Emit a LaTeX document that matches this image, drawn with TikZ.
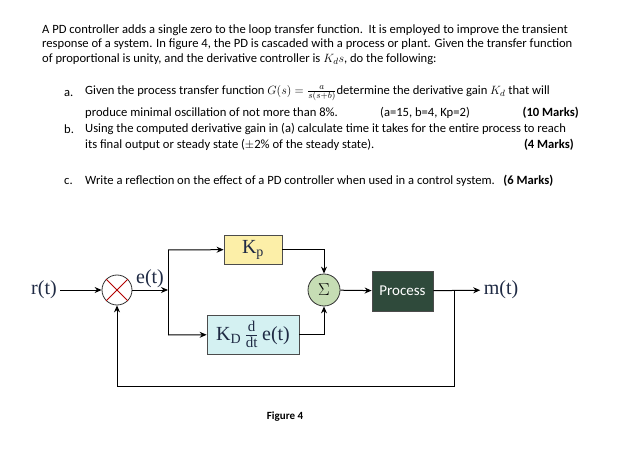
\documentclass[tikz,border=0pt]{standalone}
\usepackage{fontspec}
\setmainfont{Carlito}
\newfontfamily\serifdiag{Liberation Serif}
\usetikzlibrary{arrows.meta}
\definecolor{navy}{HTML}{1F2A44}
\definecolor{procg}{HTML}{2F4A3B}
\definecolor{sigg}{HTML}{C6DDB4}
\definecolor{kpy}{HTML}{FCEFA8}
\definecolor{kdc}{HTML}{D4F1F2}
\begin{document}
\begin{tikzpicture}[x=1pt,y=-1pt,
  txt/.style={anchor=west,inner sep=0pt,font=\fontsize{12.6}{14}\selectfont},
  blk/.style={draw=black!70,line width=0.8pt,inner sep=0pt},
  sig/.style={font=\serifdiag\fontsize{20}{22}\selectfont,text=navy},
  con/.style={line width=1pt,-{Stealth[length=7pt,width=6pt]}},
  ln/.style={line width=1pt}]
\useasboundingbox (0,0) rectangle (621,465);
\node[txt] (h1) at (42,30) {A PD controller adds a single zero to the loop transfer function.\ \ It is employed to improve the transient};
\node[txt] (h2) at (42,44) {response of a system. In figure 4, the PD is cascaded with a process or plant. Given the transfer function};
\node[txt] (h3) at (42,59) {of proportional is unity, and the derivative controller is $K_d s$, do the following:};
\node[txt] (la) at (64,93) {a.};
\node[txt] (ta) at (85,93) {Given the process transfer function $G(s) = \frac{a}{s(s+b)}$determine the derivative gain $K_d$ that will};
\node[txt] (ta2) at (85,113) {produce minimal oscillation of not more than 8\%.};
\node[txt] (ta3) at (380,113) {(a=15, b=4, Kp=2)};
\node[txt,anchor=east] (ma) at (579,113) {\textbf{(10 Marks)}};
\node[txt] (lb) at (64,129) {b.};
\node[txt] (tb) at (85,129) {Using the computed derivative gain in (a) calculate time it takes for the entire process to reach};
\node[txt] (tb2) at (85,145) {its final output or steady state ($\pm$2\% of the steady state).};
\node[txt,anchor=east] (mb) at (574,145) {\textbf{(4 Marks)}};
\node[txt] (lc) at (64,181) {c.};
\node[txt] (tc) at (85,181) {Write a reflection on the effect of a PD controller when used in a control system.\ \ \ \textbf{(6 Marks)}};

% diagram
\node[sig] (r) at (44,290) {r(t)};
\node[circle,draw=black!80,line width=0.8pt,minimum size=30pt,inner sep=0pt] (x) at (117,290) {};
\draw[red!70!black,line width=1pt] (x.45)--(x.225) (x.135)--(x.315);
\node[sig] (e) at (150,279) {e(t)};
\coordinate (br) at (168,290);
\node[blk,fill=kpy,minimum width=58pt,minimum height=29pt,sig] (kp) at (253,249.5) {K\textsubscript{p}};
\node[blk,fill=kdc,minimum width=92pt,minimum height=39pt,sig] (kd) at (253,334.5) {K\textsubscript{D}$\,\frac{\hbox{\serifdiag\fontsize{15}{16}\selectfont d}}{\hbox{\serifdiag\fontsize{15}{16}\selectfont dt}}\,$e(t)};
\node[circle,draw=black!80,line width=0.8pt,fill=sigg,minimum size=32pt,inner sep=0pt,font=\fontsize{18}{20}\selectfont] (s) at (324,290) {$\Sigma$};
\node[blk,fill=procg,minimum width=61pt,minimum height=40pt,text=white,font=\fontsize{15}{17}\selectfont] (p) at (402.5,291) {Process};
\node[sig] (m) at (501,290) {m(t)};
\coordinate (tk) at (454,290);
\coordinate (fb) at (454,386);
\coordinate (fb2) at (117,386);
\draw[con] (r) -- (x);
\draw[con] (x) -- (br);
\draw[ln] (br) |- (168,250) coordinate (t1);
\draw[con] (t1) -- (kp);
\draw[ln] (br) |- (168,335) coordinate (t2);
\draw[con] (t2) -- (kd);
\draw[con] (kp.east) -| (s.north);
\draw[con] (kd.east) -| (s.south);
\draw[con] (s) -- (p);
\draw[con] (p) -- (m);
\draw[con] (tk) -- (fb) -- (fb2) -- (x.south);
\node[font=\bfseries\fontsize{11}{13}\selectfont] (f4) at (285,417) {Figure 4};
\end{tikzpicture}
\end{document}
